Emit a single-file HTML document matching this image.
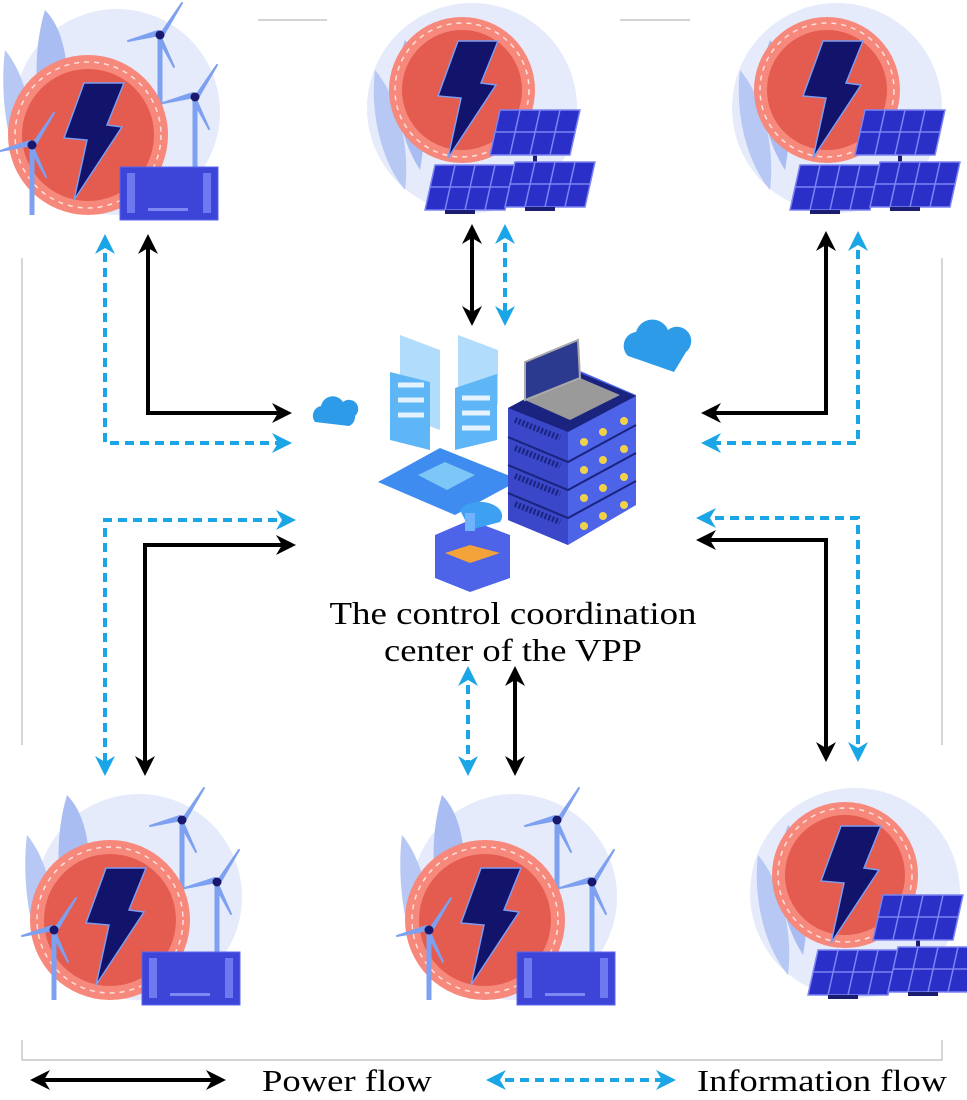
<!DOCTYPE html>
<html><head><meta charset="utf-8"><style>
html,body{margin:0;padding:0;background:#fff;}
svg{display:block;}
text{font-family:"Liberation Serif",serif;fill:#000;}
</style></head><body>
<svg width="967" height="1100" viewBox="0 0 967 1100" xmlns="http://www.w3.org/2000/svg">
<defs>
<marker id="ak" viewBox="0 0 10 10" refX="8" refY="5" markerWidth="5" markerHeight="5" orient="auto-start-reverse"><path d="M0,0 L10,5 L0,10 L3,5 z" fill="#000"/></marker>
<marker id="ab" viewBox="0 0 10 10" refX="8" refY="5" markerWidth="5" markerHeight="5" orient="auto-start-reverse"><path d="M0,0 L10,5 L0,10 L3,5 z" fill="#1aa6e6"/></marker>
<g id="bolt">
<path d="M-4,-37 L36,-37 L19,5 L34,7 L-14,80 L-1,20 L-24,18 Z" fill="#12136a" stroke="#7f9cf0" stroke-width="1.5"/>
</g>
<g id="turb">
<rect x="-2.5" y="0" width="5" height="70" fill="#7ea0f0"/>
<path d="M0,0 L-32,6 L-2,-4 Z M0,0 L22,-32 L4,-1 Z M0,0 L14,32 L-2,3 Z" fill="#7ea0f0" stroke="#7ea0f0" stroke-width="2" stroke-linejoin="round"/>
<circle r="4.5" fill="#17186e"/>
</g>
<g id="wind">
<circle cx="117" cy="112" r="103" fill="#e6ebfb"/>
<path d="M45,10 C75,40 70,110 60,160 C35,120 30,60 45,10Z" fill="#a9bdf3"/>
<path d="M5,50 C30,80 40,140 30,190 C5,150 0,90 5,50Z" fill="#b7c8f5"/>
<use href="#turb" x="160" y="35"/>
<use href="#turb" x="195" y="97"/>
<circle cx="88" cy="135" r="80" fill="#f7887c"/>
<circle cx="88" cy="135" r="66" fill="#e35c4f"/>
<circle cx="88" cy="135" r="73" fill="none" stroke="#fde1dc" stroke-width="1.5" stroke-dasharray="5 5"/>
<use href="#bolt" x="88" y="120"/>
<use href="#turb" x="32" y="145"/>
<rect x="120" y="167" width="98" height="53" fill="#3d44d8" stroke="#5b63f0" stroke-width="1"/>
<rect x="127" y="173" width="8" height="40" fill="#6e78f0"/>
<rect x="203" y="173" width="8" height="40" fill="#6e78f0"/>
<rect x="148" y="208" width="40" height="3" fill="#7e88f5"/>
</g>
<g id="panel">
<path d="M10,0 L90,0 L80,45 L0,45 Z" fill="#2a2fc8" stroke="#7d84f3" stroke-width="1.5"/>
<path d="M30,0 L20,45 M50,0 L40,45 M70,0 L60,45 M5,22 L85,22" stroke="#7d84f3" stroke-width="1.5"/>
</g>
<g id="solar">
<circle cx="107" cy="108" r="105" fill="#e6ebfb"/>
<path d="M40,40 C65,70 62,130 55,170 C30,130 25,80 40,40Z" fill="#a9bdf3"/>
<path d="M10,70 C35,100 45,150 40,190 C15,160 5,110 10,70Z" fill="#b7c8f5"/>
<circle cx="97" cy="90" r="73" fill="#f7887c"/>
<circle cx="97" cy="90" r="60" fill="#e35c4f"/>
<circle cx="97" cy="90" r="67" fill="none" stroke="#fde1dc" stroke-width="1.5" stroke-dasharray="5 5"/>
<use href="#bolt" x="97" y="78"/>
<rect x="168" y="155" width="4" height="50" fill="#1b1d70"/>
<use href="#panel" x="125" y="110"/>
<use href="#panel" x="60" y="165"/>
<use href="#panel" x="140" y="162"/>
<rect x="80" y="210" width="30" height="4" fill="#1b1d70"/>
<rect x="160" y="207" width="30" height="4" fill="#1b1d70"/>
</g>
</defs>

<g stroke="#bbb" stroke-width="1.2" fill="none">
<path d="M258,20 H327 M620,20 H690"/>
<path d="M22,258 V745 M942,258 V745"/>
<path d="M22,1040 V1060 H942 V1040"/>
</g>

<use href="#wind" x="0" y="0"/>
<use href="#solar" x="365" y="0"/>
<use href="#solar" x="730" y="0"/>
<use href="#wind" x="22" y="785"/>
<use href="#wind" x="397" y="785"/>
<use href="#solar" x="748" y="785"/>

<g fill="none" stroke-width="4">
<path d="M148,238 V413 H288" stroke="#000" marker-start="url(#ak)" marker-end="url(#ak)"/>
<path d="M105,238 V443 H288" stroke="#1aa6e6" stroke-dasharray="9 6" marker-start="url(#ab)" marker-end="url(#ab)"/>
<path d="M472,228 V322" stroke="#000" marker-start="url(#ak)" marker-end="url(#ak)"/>
<path d="M505,228 V322" stroke="#1aa6e6" stroke-dasharray="9 6" marker-start="url(#ab)" marker-end="url(#ab)"/>
<path d="M826,235 V413 H705" stroke="#000" marker-start="url(#ak)" marker-end="url(#ak)"/>
<path d="M858,235 V443 H705" stroke="#1aa6e6" stroke-dasharray="9 6" marker-start="url(#ab)" marker-end="url(#ab)"/>
<path d="M292,520 H105 V772" stroke="#1aa6e6" stroke-dasharray="9 6" marker-start="url(#ab)" marker-end="url(#ab)"/>
<path d="M292,545 H145 V772" stroke="#000" marker-start="url(#ak)" marker-end="url(#ak)"/>
<path d="M468,670 V772" stroke="#1aa6e6" stroke-dasharray="9 6" marker-start="url(#ab)" marker-end="url(#ab)"/>
<path d="M515,670 V772" stroke="#000" marker-start="url(#ak)" marker-end="url(#ak)"/>
<path d="M700,518 H858 V758" stroke="#1aa6e6" stroke-dasharray="9 6" marker-start="url(#ab)" marker-end="url(#ab)"/>
<path d="M700,540 H826 V758" stroke="#000" marker-start="url(#ak)" marker-end="url(#ak)"/>
<path d="M34,1080 H222" stroke="#000" marker-start="url(#ak)" marker-end="url(#ak)"/>
<path d="M490,1080 H672" stroke="#1aa6e6" stroke-dasharray="9 6" marker-start="url(#ab)" marker-end="url(#ab)"/>
</g>

<path d="M315,422 a10,10 0 0 1 6,-16 a12,12 0 0 1 22,-4 a9,9 0 0 1 12,14 a10,10 0 0 1 -6,10 Z" fill="#2d9be8"/>
<path d="M628,356 a14,14 0 0 1 8,-24 a17,17 0 0 1 32,-2 a14,14 0 0 1 18,22 l-12,20 Z" fill="#2d9be8"/>

<g>
<path d="M378,482 L440,448 L520,480 L455,515 Z" fill="#3f8cf0"/>
<path d="M418,475 L445,462 L475,475 L447,490 Z" fill="#7cc6f8"/>
<path d="M400,335 L440,350 L440,430 L400,415 Z" fill="#9fd3fb" opacity="0.8"/>
<path d="M458,335 L498,350 L498,405 L458,390 Z" fill="#9fd3fb" opacity="0.8"/>
<path d="M390,372 L430,382 L430,450 L390,440 Z" fill="#5fb6f6"/>
<path d="M455,388 L497,374 L497,440 L455,450 Z" fill="#5fb6f6"/>
<path d="M398,385 h26 M398,400 h26 M398,415 h26 M462,398 h28 M462,413 h28 M462,428 h28" stroke="#e4f3ff" stroke-width="5"/>
<path d="M508,408 L578,370 L636,395 L636,505 L568,545 L508,520 Z" fill="#4d63e8"/>
<path d="M508,408 L568,432 L568,545 L508,520 Z" fill="#3947c8"/>
<path d="M508,408 L578,372 L636,396 L568,432 Z" fill="#1a237e"/>
<g stroke="#1a237e" stroke-width="2" fill="none"><path d="M508,437 L568,462 L636,425 M508,465 L568,490 L636,453 M508,493 L568,518 L636,481"/></g>
<g stroke="#1a237e" stroke-width="6" fill="none" stroke-dasharray="2 2"><path d="M515,420 L560,438 M515,448 L560,466 M515,476 L560,494 M515,504 L560,522"/></g>
<g fill="#f0d24a">
<circle cx="584" cy="442" r="4"/><circle cx="603" cy="432" r="4"/><circle cx="624" cy="421" r="4"/>
<circle cx="584" cy="470" r="4"/><circle cx="603" cy="460" r="4"/><circle cx="624" cy="449" r="4"/>
<circle cx="584" cy="498" r="4"/><circle cx="603" cy="488" r="4"/><circle cx="624" cy="477" r="4"/>
<circle cx="584" cy="526" r="4"/><circle cx="603" cy="516" r="4"/><circle cx="624" cy="505" r="4"/>
</g>
<path d="M525,400 L580,378 L620,395 L570,420 Z" fill="#9a9a9a"/>
<path d="M525,400 L525,362 L578,340 L580,378 Z" fill="#2b3a8f" stroke="#aaa" stroke-width="2"/>
<path d="M435,535 L470,520 L510,535 L510,578 L470,592 L435,578 Z" fill="#4d63e8"/>
<path d="M445,553 L470,545 L500,553 L470,563 Z" fill="#f4a23a"/>
<path d="M460,510 a22,14 0 1 1 40,12 L470,530 Z" fill="#3ea0f0"/>
<rect x="465" y="513" width="10" height="18" fill="#6fb2ff"/>
</g>

<text x="513" y="624" font-size="32" text-anchor="middle" textLength="367" lengthAdjust="spacingAndGlyphs">The control coordination</text>
<text x="513" y="661" font-size="32" text-anchor="middle" textLength="258" lengthAdjust="spacingAndGlyphs">center of the VPP</text>
<text x="262" y="1091" font-size="31" textLength="170" lengthAdjust="spacingAndGlyphs">Power flow</text>
<text x="697" y="1091" font-size="31" textLength="250" lengthAdjust="spacingAndGlyphs">Information flow</text>
</svg>
</body></html>
